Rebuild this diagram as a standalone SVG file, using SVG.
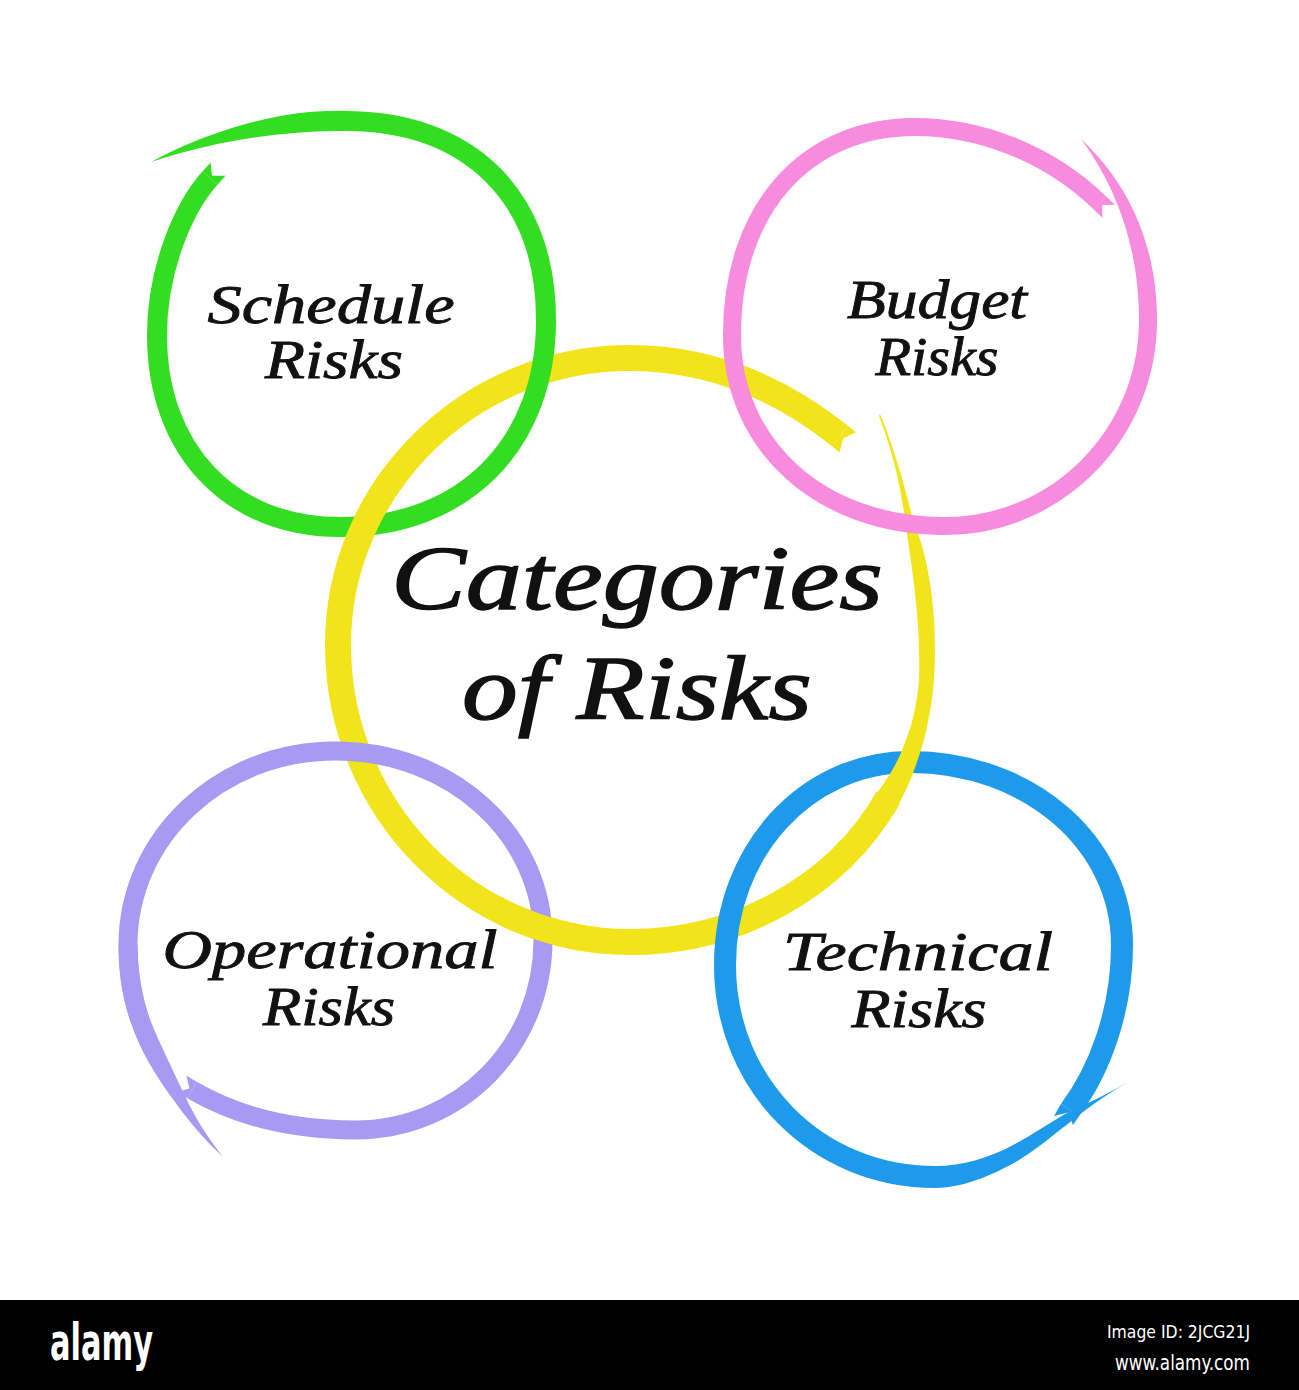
<svg xmlns="http://www.w3.org/2000/svg" xmlns:xlink="http://www.w3.org/1999/xlink" width="1299" height="1390" viewBox="0 0 1299 1390">
<style>
.ring{fill:none;stroke-linecap:butt;stroke-linejoin:round}
.lbl{font-family:'Liberation Serif','DejaVu Serif',serif;font-style:italic;font-size:54px;fill:#111;stroke:#111;stroke-width:0.9}
.big{font-size:90px;stroke-width:1.4}
.y{stroke:#F2E41A}.yf{fill:#F2E41A}
.g{stroke:#33DD22}.gf{fill:#33DD22}
.p{stroke:#F78BDE}.pf{fill:#F78BDE}
.v{stroke:#A899F2}.vf{fill:#A899F2}
.b{stroke:#1E9AEA}.bf{fill:#1E9AEA}
</style>
<defs>
<clipPath id="c1"><rect x="345" y="470" width="100" height="90"/></clipPath>
<clipPath id="c2"><rect x="500" y="870" width="100" height="100"/></clipPath>
<clipPath id="c3"><rect x="870" y="725" width="90" height="90"/></clipPath>
</defs>
<rect width="1299" height="1390" fill="#ffffff"/>

<g id="center-ring">
<path class="ring y" stroke-width="26" d="M 888 798 C 836 889 735 942 630 942 C 469 942 338 809 338 645 C 338 487 469 358 630 358 C 715 358 785 392 840 436"/>
<path class="yf" d="M 885 826 L 898 805 C 915 775 930 730 934 680 C 938 620 930 560 913 520 C 903 480 893 445 880 414 L 879 416 C 891 448 900 480 905 520 C 912 570 921 620 919 680 C 915 730 898 765 878 792 L 866 812 Z"/>
<polygon class="yf" points="831.8,446.1 839.5,452.4 843.1,438.5 856,432.2 848.2,425.9"/>
</g>

<g id="schedule">
<path class="ring g" stroke-width="20" d="M 210 178 C 183 208 157 270 157 335 C 157 450 230 527 340 527 C 464 527 546 444 546 320 C 546 197 470 121 345 121"/>
<path class="gf" d="M 346 111 C 285 109 215 128 151 162 C 220 139 285 131 346 131 Z"/>
<polygon class="gf" points="202.6,171.3 210.6,162.4 212,175.8 225.4,175.8 217.4,184.7"/>
<text class="lbl" x="331" y="323" text-anchor="middle" textLength="247" lengthAdjust="spacingAndGlyphs">Schedule</text>
<text class="lbl" x="334" y="378" text-anchor="middle" textLength="138" lengthAdjust="spacingAndGlyphs">Risks</text>
</g>

<g id="operational">
<path class="ring v" stroke-width="19" d="M 140 1020 C 131 995 128 970 128 945 C 128 838 220 751 335 751 C 451 751 543 834 543 940 C 543 1046 460 1130 355 1130 C 290 1130 235 1115 192 1090"/>
<path class="vf" d="M 118.5 945 C 118.5 975 123 1000 131 1023 C 140 1050 155 1075 175 1102 C 190 1123 205 1140 223 1157 C 208 1138 195 1118 184 1094 C 174 1072 160 1045 149 1017 C 142 995 137.5 970 137.5 945 Z"/>
<polygon class="vf" points="196.8,1081.8 186.4,1075.8 189.4,1088.5 176.8,1092.2 187.2,1098.2"/>
<text class="lbl" x="330" y="968" text-anchor="middle" textLength="335" lengthAdjust="spacingAndGlyphs">Operational</text>
<text class="lbl" x="329" y="1025" text-anchor="middle" textLength="132" lengthAdjust="spacingAndGlyphs">Risks</text>
</g>

<g id="technical">
<path class="ring b" stroke-width="22" d="M 935 1177 C 817 1177 725 1084 725 965 C 725 851 806 762 910 762 C 1029 762 1122 843 1122 945 C 1122 1010 1100 1070 1070 1110"/>
<path class="bf" d="M 935 1188 C 962 1188 992 1176 1019 1160 C 1038 1148 1052 1136 1069 1123 C 1090 1106 1110 1092 1133 1079 C 1110 1093 1088 1103 1065 1114 C 1048 1124 1032 1135 1015 1144 C 990 1158 962 1166 935 1166 Z"/>
<polygon class="bf" points="1061.2,1103.4 1054,1116 1068.2,1112.4 1073,1125 1078.8,1116.6"/>
<text class="lbl" x="918" y="970" text-anchor="middle" textLength="270" lengthAdjust="spacingAndGlyphs">Technical</text>
<text class="lbl" x="919" y="1027" text-anchor="middle" textLength="135" lengthAdjust="spacingAndGlyphs">Risks</text>
</g>

<g id="budget">
<path class="ring p" stroke-width="18" d="M 1148 320 C 1148 434 1057 526 945 526 C 821 526 732 446 732 335 C 732 210 805 127 915 127 C 975 127 1045 150 1100 203"/>
<path class="pf" d="M 1157 320 C 1157 240 1125 180 1081 139 C 1115 185 1139 245 1139 320 Z"/>
<polygon class="pf" points="1093.8,209.5 1102.4,217.8 1102.2,205.1 1114.8,204.8 1106.2,196.5"/>
<text class="lbl" x="937" y="318" text-anchor="middle" textLength="180" lengthAdjust="spacingAndGlyphs">Budget</text>
<text class="lbl" x="937" y="375" text-anchor="middle" textLength="123" lengthAdjust="spacingAndGlyphs">Risks</text>
</g>

<use xlink:href="#center-ring" href="#center-ring" clip-path="url(#c1)"/>
<use xlink:href="#center-ring" href="#center-ring" clip-path="url(#c2)"/>
<use xlink:href="#center-ring" href="#center-ring" clip-path="url(#c3)"/>

<g id="title">
<text class="lbl big" x="637" y="609" text-anchor="middle" textLength="492" lengthAdjust="spacingAndGlyphs">Categories</text>
<text class="lbl big" x="637" y="719" text-anchor="middle" textLength="350" lengthAdjust="spacingAndGlyphs">of Risks</text>
</g>

<g id="footer">
<rect x="0" y="1300" width="1299" height="90" fill="#000"/>
<text x="50" y="1360" font-family="'DejaVu Sans Condensed','DejaVu Sans',sans-serif" font-weight="bold" font-size="52" fill="#fff" textLength="103" lengthAdjust="spacingAndGlyphs">alamy</text>
<text x="1250" y="1338" text-anchor="end" font-family="'DejaVu Sans Condensed','DejaVu Sans',sans-serif" font-size="17" fill="#fff" textLength="143" lengthAdjust="spacingAndGlyphs">Image ID: 2JCG21J</text>
<text x="1250" y="1370" text-anchor="end" font-family="'DejaVu Sans Condensed','DejaVu Sans',sans-serif" font-size="21" fill="#fff" textLength="135" lengthAdjust="spacingAndGlyphs">www.alamy.com</text>
</g>
</svg>
